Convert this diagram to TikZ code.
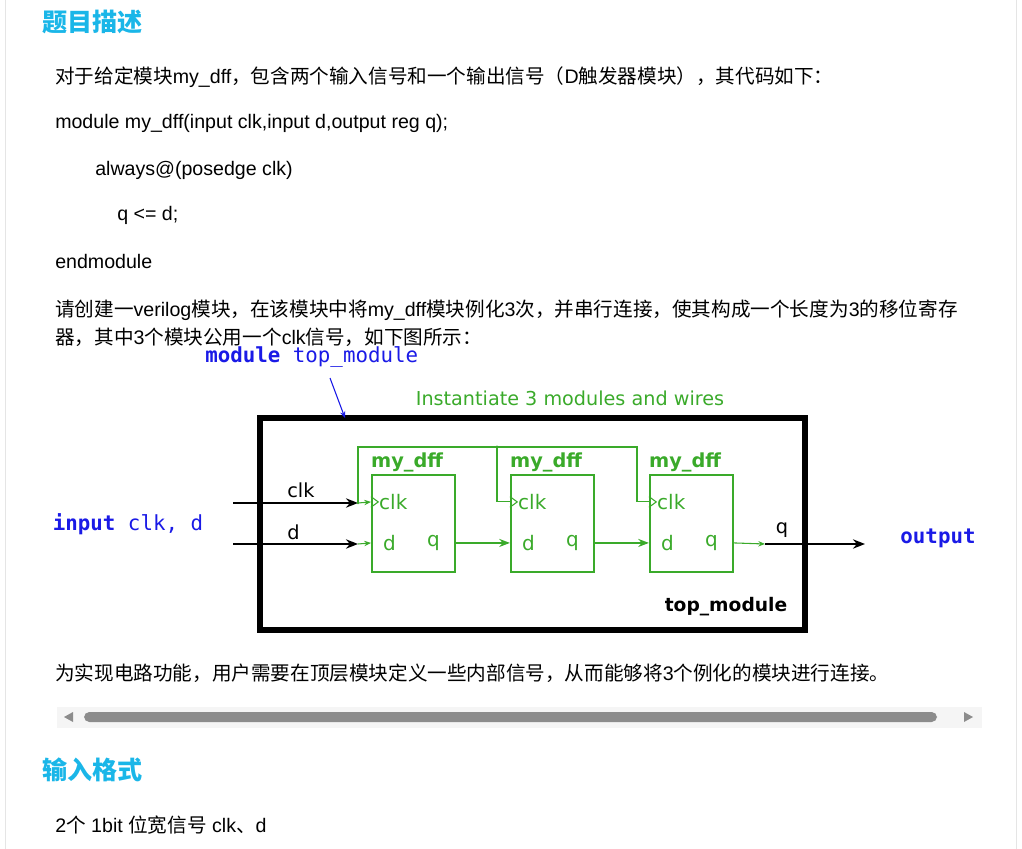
\documentclass[tikz,border=0pt]{standalone}
\usepackage{fontspec}
\setmainfont{Liberation Sans}
\newfontfamily\cjk{Noto Sans CJK SC}
\newfontfamily\dv{DejaVu Sans}
\newfontfamily\dvm{DejaVu Sans Mono}
\newcommand{\C}[1]{{\cjk #1}}
\usetikzlibrary{arrows.meta}
\definecolor{head}{HTML}{1AB6E8}
\definecolor{gr}{HTML}{3AAA2A}
\definecolor{bl}{HTML}{1A1AE6}
\begin{document}
\begin{tikzpicture}[x=0.75pt,y=-0.75pt,
  txt/.style={anchor=west,inner sep=0,font=\fontsize{14.7}{16}\selectfont},
  hd/.style={anchor=west,inner sep=0,text=head,font=\cjk\bfseries\fontsize{18.8}{22}\selectfont},
  dff/.style={draw=gr,line width=1.6pt,minimum width=62.25pt,minimum height=72.75pt,inner sep=0},
  gl/.style={text=gr,font=\dv\fontsize{15}{16}\selectfont,inner sep=0},
  gt/.style={text=gr,font=\dv\bfseries\fontsize{14.5}{16}\selectfont,inner sep=0,anchor=south west},
  mono/.style={text=bl,font=\dvm\bfseries\fontsize{15.6}{18}\selectfont,inner sep=0},
  blk/.style={-{Stealth[length=9pt,width=7pt]},line width=1.6pt},
  garr/.style={-{Stealth[length=5pt,width=4pt]},draw=gr,line width=0.8pt}]
\useasboundingbox (0,0) rectangle (1022,849);
\draw[black!10] (5,0) -- (5,849) (1016,0) -- (1016,849);
\node[hd] (h1) at (42,22) {题目描述};
\node[txt] (l1) at (55,77) {\C{对于给定模块}my\_dff\C{，包含两个输入信号和一个输出信号（}D\C{触发器模块），其代码如下：}};
\node[txt] (l2) at (55,123) {module my\_dff(input clk,input d,output reg q);};
\node[txt] (l3) at (95,170) {always@(posedge clk)};
\node[txt] (l4) at (117,215) {q <= d;};
\node[txt] (l5) at (55,261) {endmodule};
\node[txt] (l6) at (55,310) {\C{请创建一}verilog\C{模块，在该模块中将}my\_dff\C{模块例化}3\C{次，并串行连接，使其构成一个长度为}3\C{的移位寄存}};
\node[txt] (l7) at (55,337) {\C{器，其中}3\C{个模块公用一个}clk\C{信号，如下图所示：}};
% diagram
\node[mono,anchor=west] (mt) at (205,357) {module \textmd{top\_module}};
\node[text=gr,font=\dv\fontsize{14.4}{16}\selectfont,inner sep=0] (inst) at (570,398) {Instantiate 3 modules and wires};
\draw[line width=4pt] (260,418) rectangle (805,630);
\coordinate (tl) at (345,418);
\draw[-{Stealth[length=5pt,width=4pt]},draw=bl,line width=0.8pt] (330,378) -- (tl);
\node[dff] (d1) at (413.5,523.5) {};
\node[dff] (d2) at (552.5,523.5) {};
\node[dff] (d3) at (691.5,523.5) {};
\foreach \i in {1,2,3}{
  \node[gt] at (d\i.north west) [yshift=1pt] {my\_dff};
  \coordinate (c\i) at ([yshift=-21pt]d\i.north west);
  \coordinate (dd\i) at ([yshift=-51.75pt]d\i.north west);
  \coordinate (q\i) at ([yshift=-51.75pt]d\i.north east);
  \node[gl,anchor=west] at ([xshift=6pt]c\i) {clk};
  \node[gl,anchor=west] at ([xshift=9pt]dd\i) {d};
  \node[gl,anchor=east] at ([xshift=-12pt]q\i) {q};
  \draw[gr,line width=0.8pt] ([yshift=4pt]c\i) -- ([xshift=5.5pt]c\i) -- ([yshift=-4pt]c\i);
}
\node[font=\dv\fontsize{14.5}{16}\selectfont,inner sep=0,anchor=west] at (287,490) {clk};
\node[font=\dv\fontsize{14.5}{16}\selectfont,inner sep=0,anchor=west] at (287,532) {d};
\coordinate (ci) at (233,503); \coordinate (cm) at (358,503);
\coordinate (di) at (233,544); \coordinate (dm) at (358,544);
\draw[blk] (ci) -- (cm);
\draw[blk] (di) -- (dm);
\draw[garr] (cm) -- (c1);
\draw[garr] (dm) -- (dd1);
\draw[gr,line width=0.8pt] (cm) -- (358,447) -- (637,447) |- (c3);
\draw[gr,line width=0.8pt] (497,447) |- (c2);
\fill[gr] (497,447) circle (1.6);
\fill[gr] (358,503) circle (1.4);
\draw[-{Stealth[length=8pt,width=6pt]},draw=gr,line width=1.6pt] (q1) -- (dd2);
\draw[-{Stealth[length=8pt,width=6pt]},draw=gr,line width=1.6pt] (q2) -- (dd3);
\coordinate (qm) at (765,544); \coordinate (qo) at (865,544);
\draw[garr] (q3) -- (qm);
\draw[blk] (qm) -- (qo);
\node[font=\dv\fontsize{14.5}{16}\selectfont,inner sep=0] at (782,530) {q};
\node[mono] (out) at (938,538) {output};
\node[mono] (in) at (128,524) {input \textmd{clk, d}};
\node[font=\dv\bfseries\fontsize{14}{16}\selectfont,inner sep=0] (tm) at (726,607) {top\_module};
% rest of page
\node[txt] (l8) at (55,673) {\C{为实现电路功能，用户需要在顶层模块定义一些内部信号，从而能够将}3\C{个例化的模块进行连接。}};
\fill[black!4] (57,707) rectangle (982,728);
\fill[black!45,rounded corners=4pt] (84,712) rectangle (937,722);
\fill[black!45] (64,717) -- (73,712) -- (73,722) -- cycle;
\fill[black!45] (973,717) -- (964,712) -- (964,722) -- cycle;
\node[hd] (h2) at (42,770) {输入格式};
\node[txt] (l9) at (55,825) {2\C{个} 1bit \C{位宽信号} clk\C{、}d};
\end{tikzpicture}
\end{document}
